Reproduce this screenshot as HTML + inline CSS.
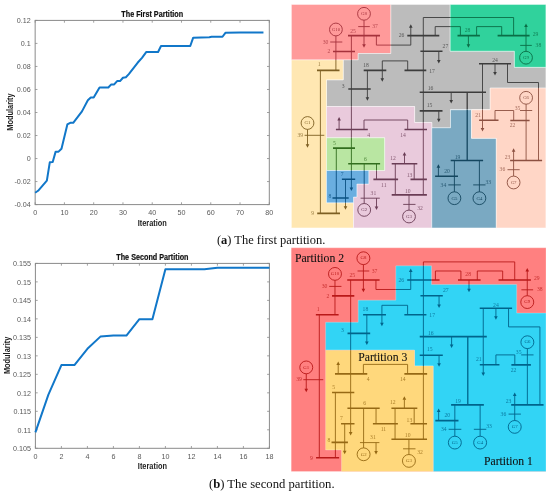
<!DOCTYPE html>
<html><head><meta charset="utf-8"><style>
html,body{margin:0;padding:0;background:#fff;width:550px;height:492px;overflow:hidden}
svg{display:block;will-change:transform}
.tk{font-family:"Liberation Sans",sans-serif;font-size:7.8px;fill:#5a5a5a}
.ttl{font-family:"Liberation Sans",sans-serif;font-size:8.6px;font-weight:bold;fill:#111;stroke:#111;stroke-width:0.2px}
.lbl{font-family:"Liberation Sans",sans-serif;font-size:8.2px;font-weight:bold;fill:#222}
.bl text{font-family:"Liberation Serif",serif;font-size:5.6px}
.gl text{font-family:"Liberation Serif",serif;font-size:4.8px}
.cap{font-family:"Liberation Serif",serif;font-size:13px;fill:#111}
.pt{font-family:"Liberation Serif",serif;font-size:12.8px;fill:#111;stroke:#111;stroke-width:0.1px}
.ov{mix-blend-mode:multiply}
</style></head><body>
<svg width="550" height="492" viewBox="0 0 550 492">
<rect x="35.15" y="20.4" width="234.15" height="184.2" fill="none" stroke="#8a8a8a" stroke-width="1"/>
<path d="M35.15 204.6v-2.3M35.15 20.4v2.3" stroke="#8a8a8a" stroke-width="0.8"/>
<text transform="translate(35.15,215.4) scale(0.92,1)" class="tk" text-anchor="middle">0</text>
<path d="M64.42 204.6v-2.3M64.42 20.4v2.3" stroke="#8a8a8a" stroke-width="0.8"/>
<text transform="translate(64.42,215.4) scale(0.92,1)" class="tk" text-anchor="middle">10</text>
<path d="M93.69 204.6v-2.3M93.69 20.4v2.3" stroke="#8a8a8a" stroke-width="0.8"/>
<text transform="translate(93.69,215.4) scale(0.92,1)" class="tk" text-anchor="middle">20</text>
<path d="M122.96 204.6v-2.3M122.96 20.4v2.3" stroke="#8a8a8a" stroke-width="0.8"/>
<text transform="translate(122.96,215.4) scale(0.92,1)" class="tk" text-anchor="middle">30</text>
<path d="M152.22 204.6v-2.3M152.22 20.4v2.3" stroke="#8a8a8a" stroke-width="0.8"/>
<text transform="translate(152.22,215.4) scale(0.92,1)" class="tk" text-anchor="middle">40</text>
<path d="M181.49 204.6v-2.3M181.49 20.4v2.3" stroke="#8a8a8a" stroke-width="0.8"/>
<text transform="translate(181.49,215.4) scale(0.92,1)" class="tk" text-anchor="middle">50</text>
<path d="M210.76 204.6v-2.3M210.76 20.4v2.3" stroke="#8a8a8a" stroke-width="0.8"/>
<text transform="translate(210.76,215.4) scale(0.92,1)" class="tk" text-anchor="middle">60</text>
<path d="M240.03 204.6v-2.3M240.03 20.4v2.3" stroke="#8a8a8a" stroke-width="0.8"/>
<text transform="translate(240.03,215.4) scale(0.92,1)" class="tk" text-anchor="middle">70</text>
<path d="M269.3 204.6v-2.3M269.3 20.4v2.3" stroke="#8a8a8a" stroke-width="0.8"/>
<text transform="translate(269.3,215.4) scale(0.92,1)" class="tk" text-anchor="middle">80</text>
<path d="M35.15 204.6h2.3M269.3 204.6h-2.3" stroke="#8a8a8a" stroke-width="0.8"/>
<text transform="translate(30.75,207.4) scale(0.92,1)" class="tk" text-anchor="end">-0.04</text>
<path d="M35.15 181.57h2.3M269.3 181.57h-2.3" stroke="#8a8a8a" stroke-width="0.8"/>
<text transform="translate(30.75,184.38) scale(0.92,1)" class="tk" text-anchor="end">-0.02</text>
<path d="M35.15 158.55h2.3M269.3 158.55h-2.3" stroke="#8a8a8a" stroke-width="0.8"/>
<text transform="translate(30.75,161.35) scale(0.92,1)" class="tk" text-anchor="end">0</text>
<path d="M35.15 135.53h2.3M269.3 135.53h-2.3" stroke="#8a8a8a" stroke-width="0.8"/>
<text transform="translate(30.75,138.33) scale(0.92,1)" class="tk" text-anchor="end">0.02</text>
<path d="M35.15 112.5h2.3M269.3 112.5h-2.3" stroke="#8a8a8a" stroke-width="0.8"/>
<text transform="translate(30.75,115.3) scale(0.92,1)" class="tk" text-anchor="end">0.04</text>
<path d="M35.15 89.47h2.3M269.3 89.47h-2.3" stroke="#8a8a8a" stroke-width="0.8"/>
<text transform="translate(30.75,92.27) scale(0.92,1)" class="tk" text-anchor="end">0.06</text>
<path d="M35.15 66.45h2.3M269.3 66.45h-2.3" stroke="#8a8a8a" stroke-width="0.8"/>
<text transform="translate(30.75,69.25) scale(0.92,1)" class="tk" text-anchor="end">0.08</text>
<path d="M35.15 43.42h2.3M269.3 43.42h-2.3" stroke="#8a8a8a" stroke-width="0.8"/>
<text transform="translate(30.75,46.22) scale(0.92,1)" class="tk" text-anchor="end">0.1</text>
<path d="M35.15 20.4h2.3M269.3 20.4h-2.3" stroke="#8a8a8a" stroke-width="0.8"/>
<text transform="translate(30.75,23.2) scale(0.92,1)" class="tk" text-anchor="end">0.12</text>
<polyline points="35.15,192.74 38.08,190.78 46.86,180.65 49.78,162.35 52.71,162 55.64,151.64 58.56,151.64 61.49,148.76 67.35,124.47 70.27,122.86 73.2,122.86 81.98,111.35 87.83,100.3 90.76,97.53 93.69,97.53 99.54,87.52 108.32,87.52 111.25,84.41 114.18,84.41 117.1,81.07 120.03,81.07 122.96,77.73 125.88,77.27 128.81,74.16 137.59,62.77 141.98,57.93 146.37,51.94 158.08,51.94 161.01,45.96 190.27,45.96 193.2,37.67 209.3,37.32 211.64,36.75 222.47,36.75 225.4,32.83 240.03,32.6 263.45,32.6" fill="none" stroke="#1177c9" stroke-width="2" stroke-linejoin="round"/>
<text transform="translate(152.22,17.1) scale(0.84,1)" class="ttl" text-anchor="middle">The First Partition</text>
<text transform="translate(152.22,226) scale(0.9,1)" class="lbl" text-anchor="middle">Iteration</text>
<text transform="translate(12.6,112) rotate(-90) scale(0.9,1)" class="lbl" text-anchor="middle">Modularity</text>
<rect x="35.4" y="263.4" width="234" height="184.9" fill="none" stroke="#8a8a8a" stroke-width="1"/>
<path d="M35.4 448.3v-2.3M35.4 263.4v2.3" stroke="#8a8a8a" stroke-width="0.8"/>
<text transform="translate(35.4,459.1) scale(0.92,1)" class="tk" text-anchor="middle">0</text>
<path d="M61.4 448.3v-2.3M61.4 263.4v2.3" stroke="#8a8a8a" stroke-width="0.8"/>
<text transform="translate(61.4,459.1) scale(0.92,1)" class="tk" text-anchor="middle">2</text>
<path d="M87.4 448.3v-2.3M87.4 263.4v2.3" stroke="#8a8a8a" stroke-width="0.8"/>
<text transform="translate(87.4,459.1) scale(0.92,1)" class="tk" text-anchor="middle">4</text>
<path d="M113.4 448.3v-2.3M113.4 263.4v2.3" stroke="#8a8a8a" stroke-width="0.8"/>
<text transform="translate(113.4,459.1) scale(0.92,1)" class="tk" text-anchor="middle">6</text>
<path d="M139.4 448.3v-2.3M139.4 263.4v2.3" stroke="#8a8a8a" stroke-width="0.8"/>
<text transform="translate(139.4,459.1) scale(0.92,1)" class="tk" text-anchor="middle">8</text>
<path d="M165.4 448.3v-2.3M165.4 263.4v2.3" stroke="#8a8a8a" stroke-width="0.8"/>
<text transform="translate(165.4,459.1) scale(0.92,1)" class="tk" text-anchor="middle">10</text>
<path d="M191.4 448.3v-2.3M191.4 263.4v2.3" stroke="#8a8a8a" stroke-width="0.8"/>
<text transform="translate(191.4,459.1) scale(0.92,1)" class="tk" text-anchor="middle">12</text>
<path d="M217.4 448.3v-2.3M217.4 263.4v2.3" stroke="#8a8a8a" stroke-width="0.8"/>
<text transform="translate(217.4,459.1) scale(0.92,1)" class="tk" text-anchor="middle">14</text>
<path d="M243.4 448.3v-2.3M243.4 263.4v2.3" stroke="#8a8a8a" stroke-width="0.8"/>
<text transform="translate(243.4,459.1) scale(0.92,1)" class="tk" text-anchor="middle">16</text>
<path d="M269.4 448.3v-2.3M269.4 263.4v2.3" stroke="#8a8a8a" stroke-width="0.8"/>
<text transform="translate(269.4,459.1) scale(0.92,1)" class="tk" text-anchor="middle">18</text>
<path d="M35.4 448.3h2.3M269.4 448.3h-2.3" stroke="#8a8a8a" stroke-width="0.8"/>
<text transform="translate(31,451.1) scale(0.92,1)" class="tk" text-anchor="end">0.105</text>
<path d="M35.4 429.81h2.3M269.4 429.81h-2.3" stroke="#8a8a8a" stroke-width="0.8"/>
<text transform="translate(31,432.61) scale(0.92,1)" class="tk" text-anchor="end">0.11</text>
<path d="M35.4 411.32h2.3M269.4 411.32h-2.3" stroke="#8a8a8a" stroke-width="0.8"/>
<text transform="translate(31,414.12) scale(0.92,1)" class="tk" text-anchor="end">0.115</text>
<path d="M35.4 392.83h2.3M269.4 392.83h-2.3" stroke="#8a8a8a" stroke-width="0.8"/>
<text transform="translate(31,395.63) scale(0.92,1)" class="tk" text-anchor="end">0.12</text>
<path d="M35.4 374.34h2.3M269.4 374.34h-2.3" stroke="#8a8a8a" stroke-width="0.8"/>
<text transform="translate(31,377.14) scale(0.92,1)" class="tk" text-anchor="end">0.125</text>
<path d="M35.4 355.85h2.3M269.4 355.85h-2.3" stroke="#8a8a8a" stroke-width="0.8"/>
<text transform="translate(31,358.65) scale(0.92,1)" class="tk" text-anchor="end">0.13</text>
<path d="M35.4 337.36h2.3M269.4 337.36h-2.3" stroke="#8a8a8a" stroke-width="0.8"/>
<text transform="translate(31,340.16) scale(0.92,1)" class="tk" text-anchor="end">0.135</text>
<path d="M35.4 318.87h2.3M269.4 318.87h-2.3" stroke="#8a8a8a" stroke-width="0.8"/>
<text transform="translate(31,321.67) scale(0.92,1)" class="tk" text-anchor="end">0.14</text>
<path d="M35.4 300.38h2.3M269.4 300.38h-2.3" stroke="#8a8a8a" stroke-width="0.8"/>
<text transform="translate(31,303.18) scale(0.92,1)" class="tk" text-anchor="end">0.145</text>
<path d="M35.4 281.89h2.3M269.4 281.89h-2.3" stroke="#8a8a8a" stroke-width="0.8"/>
<text transform="translate(31,284.69) scale(0.92,1)" class="tk" text-anchor="end">0.15</text>
<path d="M35.4 263.4h2.3M269.4 263.4h-2.3" stroke="#8a8a8a" stroke-width="0.8"/>
<text transform="translate(31,266.2) scale(0.92,1)" class="tk" text-anchor="end">0.155</text>
<polyline points="35.4,432.4 48.4,394.68 61.4,365.09 74.4,365.09 87.4,348.82 100.4,336.62 113.4,335.51 126.4,335.51 139.4,319.24 152.4,319.24 165.4,269.32 204.4,269.32 217.4,267.84 269.4,267.84" fill="none" stroke="#1177c9" stroke-width="2" stroke-linejoin="round"/>
<text transform="translate(152.4,259.7) scale(0.84,1)" class="ttl" text-anchor="middle">The Second Partition</text>
<text transform="translate(152.4,469.4) scale(0.9,1)" class="lbl" text-anchor="middle">Iteration</text>
<text transform="translate(10.1,355.4) rotate(-90) scale(0.9,1)" class="lbl" text-anchor="middle">Modularity</text>
<g>
<polygon points="291.4,4.4 390.9,4.4 390.9,53.5 358.2,53.5 358.2,59.9 291.4,59.9" fill="#ff9a9a" stroke="#fff" stroke-opacity="0.55" stroke-width="0.8"/>
<polygon points="390.9,4.4 450.2,4.4 450.2,51.2 514.4,51.2 514.4,67.3 545.9,67.3 545.9,88.1 490.2,88.1 490.2,109.5 450.5,109.5 450.5,127.8 431.8,127.8 431.8,122.5 414.6,122.5 414.6,106.5 326.5,106.5 326.5,79.8 343.2,79.8 343.2,59.9 358.2,59.9 358.2,53.5 390.9,53.5" fill="#bcbcbc" stroke="#fff" stroke-opacity="0.55" stroke-width="0.8"/>
<polygon points="450.2,4.4 545.9,4.4 545.9,67.3 514.4,67.3 514.4,51.2 450.2,51.2" fill="#30d29c" stroke="#fff" stroke-opacity="0.55" stroke-width="0.8"/>
<polygon points="291.4,59.9 343.2,59.9 343.2,79.8 326.5,79.8 326.5,202.8 353.5,202.8 353.5,227.9 291.4,227.9" fill="#ffe7b2" stroke="#fff" stroke-opacity="0.55" stroke-width="0.8"/>
<polygon points="326.5,106.5 414.6,106.5 414.6,122.5 431.8,122.5 431.8,227.9 353.5,227.9 353.5,197 356.9,197 356.9,184 368.8,184 368.8,170.5 384.6,170.5 384.6,137.8 326.5,137.8" fill="#e9cadc" stroke="#fff" stroke-opacity="0.55" stroke-width="0.8"/>
<polygon points="326.5,137.8 384.6,137.8 384.6,170.5 326.5,170.5" fill="#b9e6a2" stroke="#fff" stroke-opacity="0.55" stroke-width="0.8"/>
<polygon points="326.5,170.5 368.8,170.5 368.8,184 356.9,184 356.9,197 353.5,197 353.5,202.8 326.5,202.8" fill="#6aaee0" stroke="#fff" stroke-opacity="0.55" stroke-width="0.8"/>
<polygon points="450.5,109.8 471.5,109.8 471.5,138.3 496.3,138.3 496.3,227.9 431.8,227.9 431.8,127.8 450.5,127.8" fill="#7aa9c2" stroke="#fff" stroke-opacity="0.55" stroke-width="0.8"/>
<polygon points="490.2,88.1 545.9,88.1 545.9,227.9 496.3,227.9 496.3,138.3 471.5,138.3 471.5,109.8 490.2,109.8" fill="#ffd6c6" stroke="#fff" stroke-opacity="0.55" stroke-width="0.8"/>
<polygon points="291.2,247.8 546,247.8 546,471.5 291.2,471.5" fill="#ff8080" stroke="#fff" stroke-opacity="0.3" stroke-width="0.8"/>
<polygon points="395.8,265.8 431.5,265.8 431.5,284.5 516.7,284.5 516.7,313.1 546,313.1 546,471.5 433.2,471.5 433.2,365.9 414.5,365.9 414.5,350.2 325.6,350.2 325.6,322.3 358.2,322.3 358.2,300.2 395.8,300.2" fill="#32d4f5" stroke="#fff" stroke-opacity="0.3" stroke-width="0.8"/>
<polygon points="325.6,350.2 414.5,350.2 414.5,365.9 433.2,365.9 433.2,471.5 341.5,471.5 341.5,449.9 325.6,449.9" fill="#ffd87c" stroke="#fff" stroke-opacity="0.3" stroke-width="0.8"/>
</g>
<defs><g id="dia"><g class="ln" fill="none" stroke="currentColor" stroke-width="0.9">
<path d="M335.9 35.9V70.4"/>
<path d="M364 20.2V45"/>
<path d="M376.4 35.6V45.1H410.8V27"/>
<path d="M351.4 35.6V188"/>
<path d="M320.4 70.4V213.4"/>
<path d="M423.3 17.5V194.9"/>
<path d="M423.3 17.5H513.6V35.6"/>
<path d="M435.2 35.6V26.6H460.4V35.6"/>
<path d="M476.6 35.6V26.6H501.7V35.6"/>
<path d="M468.4 35.6V45"/>
<path d="M526 35.6V26.5"/>
<path d="M526 35.6V51.3"/>
<path d="M438.8 51.3V61"/>
<path d="M367.4 70.4V98"/>
<path d="M382.3 79V60.9H407.7V70.4"/>
<path d="M451.2 92.2V101"/>
<path d="M482.5 63.8V129"/>
<path d="M495 63.8V73"/>
<path d="M507.5 63.8V82.5H538.5V160.5"/>
<path d="M495 120.3V110.5H513.7V120.5"/>
<path d="M526.1 104.2V160.5"/>
<path d="M513.6 160.5V151"/>
<path d="M513.6 160.5V176.1"/>
<path d="M307.5 129.4V145"/>
<path d="M339.1 129.5V120"/>
<path d="M364 129.5V120H407.7V129.5"/>
<path d="M336.3 148.1V213.4"/>
<path d="M345.5 179.3V207"/>
<path d="M364.2 163.8V203.5"/>
<path d="M376.5 163.8V179.4"/>
<path d="M376.5 198.2V207.5"/>
<path d="M404.5 163.8V155"/>
<path d="M395.3 163.8V194.9"/>
<path d="M414.2 163.8V179.4"/>
<path d="M409 194.9V210.1"/>
<path d="M454.4 160.5V191.8"/>
<path d="M479.4 160.5V191.8"/>
<path d="M438.4 176.2V167"/>
<path d="M438.8 110.9V119.5"/>
<circle cx="335.9" cy="29.5" r="6.4"/>
<circle cx="364" cy="13.8" r="6.4"/>
<circle cx="526" cy="57.7" r="6.4"/>
<circle cx="307.5" cy="123" r="6.4"/>
<circle cx="526.1" cy="97.8" r="6.4"/>
<circle cx="364.2" cy="209.9" r="6.4"/>
<circle cx="409" cy="216.5" r="6.4"/>
<circle cx="454.4" cy="198.2" r="6.4"/>
<circle cx="479.4" cy="198.2" r="6.4"/>
<circle cx="513.6" cy="182.5" r="6.4"/>
<path d="M467.2 92.2V160.5" stroke-width="1.3"/>
</g>
<g stroke="currentColor">
<path d="M348 35.6H380" stroke-width="1.6"/>
<path d="M333 51.5H355" stroke-width="1.6"/>
<path d="M330.2 42H342.3" stroke-width="0.9"/>
<path d="M358.2 26.6H369.8" stroke-width="0.9"/>
<path d="M407.3 35.6H439.3" stroke-width="1.6"/>
<path d="M457.5 35.6H479.9" stroke-width="1.6"/>
<path d="M497.6 35.6H529.6" stroke-width="1.6"/>
<path d="M520.2 45.4H531.8" stroke-width="0.9"/>
<path d="M420.4 51.3H442.5" stroke-width="1.6"/>
<path d="M317 70.4H339.5" stroke-width="1.6"/>
<path d="M363.7 70.4H386.3" stroke-width="1.6"/>
<path d="M404.5 70.4H426.3" stroke-width="1.6"/>
<path d="M479 63.8H511" stroke-width="1.6"/>
<path d="M348.3 89H370.7" stroke-width="1.6"/>
<path d="M419.7 92.2H486" stroke-width="1.6"/>
<path d="M419.7 110.9H442.5" stroke-width="1.6"/>
<path d="M479.1 120.3H498.5" stroke-width="1.6"/>
<path d="M510.3 120.5H529.6" stroke-width="1.6"/>
<path d="M520 110.5H532.2" stroke-width="0.9"/>
<path d="M304.6 135.3H324.3" stroke-width="0.9"/>
<path d="M335.9 129.5H367.8" stroke-width="1.6"/>
<path d="M404.5 129.5H427" stroke-width="1.6"/>
<path d="M333 148.1H355" stroke-width="1.6"/>
<path d="M348.2 163.8H380.1" stroke-width="1.6"/>
<path d="M391.7 163.8H417.3" stroke-width="1.6"/>
<path d="M341.9 179.3H355.2" stroke-width="1.6"/>
<path d="M373.4 179.4H398.1" stroke-width="1.6"/>
<path d="M410.5 179.4H426.9" stroke-width="1.6"/>
<path d="M332.5 198H348.7" stroke-width="1.6"/>
<path d="M360.6 198.2H379.8" stroke-width="0.9"/>
<path d="M391.7 194.9H426.9" stroke-width="1.6"/>
<path d="M403.2 204.4H415.5" stroke-width="0.9"/>
<path d="M317.2 213.4H340" stroke-width="1.6"/>
<path d="M450.7 160.5H483.1" stroke-width="1.6"/>
<path d="M435.1 176.2H458" stroke-width="1.6"/>
<path d="M448.3 184.9H460.8" stroke-width="0.9"/>
<path d="M473.2 184.9H485.5" stroke-width="0.9"/>
<path d="M510.1 160.5H542.1" stroke-width="1.6"/>
<path d="M507.5 169.7H519.7" stroke-width="0.9"/>
</g>
<g fill="currentColor">
<path d="M364 47.8L362.2 44.3H365.8Z"/>
<path d="M410.8 24.2L409 27.7H412.6Z"/>
<path d="M468.4 47.8L466.6 44.3H470.2Z"/>
<path d="M526 23.5L524.2 27H527.8Z"/>
<path d="M438.8 63.6L437 60.1H440.6Z"/>
<path d="M367.4 100.7L365.6 97.2H369.2Z"/>
<path d="M382.3 81.8L380.5 78.3H384.1Z"/>
<path d="M451.2 103.5L449.4 100H453Z"/>
<path d="M482.5 131.5L480.7 128H484.3Z"/>
<path d="M495 75.4L493.2 71.9H496.8Z"/>
<path d="M513.6 148.2L511.8 151.7H515.4Z"/>
<path d="M307.5 147.8L305.7 144.3H309.3Z"/>
<path d="M339.1 117L337.3 120.5H340.9Z"/>
<path d="M351.4 191L349.6 187.5H353.2Z"/>
<path d="M345.5 209.8L343.7 206.3H347.3Z"/>
<path d="M376.5 210.1L374.7 206.6H378.3Z"/>
<path d="M404.5 151.9L402.7 155.4H406.3Z"/>
<path d="M438.4 164.2L436.6 167.7H440.2Z"/>
<path d="M438.8 122.3L437 118.8H440.6Z"/>
</g>
<g class="bl" fill="currentColor" fill-opacity="0.8">
<text x="353" y="32.9" text-anchor="middle">25</text>
<text x="329" y="53.4" text-anchor="middle">2</text>
<text x="325.5" y="43.9" text-anchor="middle">30</text>
<text x="375" y="28.4" text-anchor="middle">37</text>
<text x="401.5" y="37.4" text-anchor="middle">26</text>
<text x="467.6" y="31.9" text-anchor="middle">28</text>
<text x="535.5" y="35.9" text-anchor="middle">29</text>
<text x="538.4" y="46.9" text-anchor="middle">38</text>
<text x="445.4" y="47.9" text-anchor="middle">27</text>
<text x="319.2" y="66.4" text-anchor="middle">1</text>
<text x="366" y="66.9" text-anchor="middle">18</text>
<text x="432" y="72.9" text-anchor="middle">17</text>
<text x="495" y="62.3" text-anchor="middle">24</text>
<text x="343.2" y="87.9" text-anchor="middle">3</text>
<text x="430.6" y="90.3" text-anchor="middle">16</text>
<text x="429.6" y="106.9" text-anchor="middle">15</text>
<text x="478" y="116.9" text-anchor="middle">21</text>
<text x="512.5" y="127.4" text-anchor="middle">22</text>
<text x="517.5" y="109.9" text-anchor="middle">35</text>
<text x="300.3" y="136.9" text-anchor="middle">39</text>
<text x="368.6" y="136.5" text-anchor="middle">4</text>
<text x="403" y="136.5" text-anchor="middle">14</text>
<text x="334.5" y="144.9" text-anchor="middle">5</text>
<text x="365.3" y="160.9" text-anchor="middle">6</text>
<text x="393" y="159.9" text-anchor="middle">12</text>
<text x="342.2" y="175.9" text-anchor="middle">7</text>
<text x="383.8" y="186.8" text-anchor="middle">11</text>
<text x="409.5" y="177.2" text-anchor="middle">13</text>
<text x="330" y="197.9" text-anchor="middle">8</text>
<text x="373.4" y="194.9" text-anchor="middle">31</text>
<text x="407.8" y="192.8" text-anchor="middle">10</text>
<text x="420" y="209.9" text-anchor="middle">32</text>
<text x="312.6" y="215.3" text-anchor="middle">9</text>
<text x="457.5" y="158.7" text-anchor="middle">19</text>
<text x="447" y="172.9" text-anchor="middle">20</text>
<text x="443.4" y="186.9" text-anchor="middle">34</text>
<text x="488.2" y="183.9" text-anchor="middle">33</text>
<text x="507.5" y="158.9" text-anchor="middle">23</text>
<text x="502.4" y="171.4" text-anchor="middle">36</text>
</g>
<g class="gl" fill="currentColor">
<text x="335.9" y="30.8" text-anchor="middle">G10</text>
<text x="364" y="15.1" text-anchor="middle">G8</text>
<text x="526" y="59" text-anchor="middle">G9</text>
<text x="307.5" y="124.3" text-anchor="middle">G1</text>
<text x="526.1" y="99.1" text-anchor="middle">G6</text>
<text x="364.2" y="211.2" text-anchor="middle">G2</text>
<text x="409" y="217.8" text-anchor="middle">G3</text>
<text x="454.4" y="199.5" text-anchor="middle">G5</text>
<text x="479.4" y="199.5" text-anchor="middle">G4</text>
<text x="513.6" y="183.8" text-anchor="middle">G7</text>
</g></g>
<clipPath id="a0"><polygon points="291.4,4.4 390.9,4.4 390.9,53.5 358.2,53.5 358.2,59.9 291.4,59.9"/></clipPath>
<clipPath id="a1"><polygon points="390.9,4.4 450.2,4.4 450.2,51.2 514.4,51.2 514.4,67.3 545.9,67.3 545.9,88.1 490.2,88.1 490.2,109.5 450.5,109.5 450.5,127.8 431.8,127.8 431.8,122.5 414.6,122.5 414.6,106.5 326.5,106.5 326.5,79.8 343.2,79.8 343.2,59.9 358.2,59.9 358.2,53.5 390.9,53.5"/></clipPath>
<clipPath id="a2"><polygon points="450.2,4.4 545.9,4.4 545.9,67.3 514.4,67.3 514.4,51.2 450.2,51.2"/></clipPath>
<clipPath id="a3"><polygon points="291.4,59.9 343.2,59.9 343.2,79.8 326.5,79.8 326.5,202.8 353.5,202.8 353.5,227.9 291.4,227.9"/></clipPath>
<clipPath id="a4"><polygon points="326.5,106.5 414.6,106.5 414.6,122.5 431.8,122.5 431.8,227.9 353.5,227.9 353.5,197 356.9,197 356.9,184 368.8,184 368.8,170.5 384.6,170.5 384.6,137.8 326.5,137.8"/></clipPath>
<clipPath id="a5"><polygon points="326.5,137.8 384.6,137.8 384.6,170.5 326.5,170.5"/></clipPath>
<clipPath id="a6"><polygon points="326.5,170.5 368.8,170.5 368.8,184 356.9,184 356.9,197 353.5,197 353.5,202.8 326.5,202.8"/></clipPath>
<clipPath id="a7"><polygon points="450.5,109.8 471.5,109.8 471.5,138.3 496.3,138.3 496.3,227.9 431.8,227.9 431.8,127.8 450.5,127.8"/></clipPath>
<clipPath id="a8"><polygon points="490.2,88.1 545.9,88.1 545.9,227.9 496.3,227.9 496.3,138.3 471.5,138.3 471.5,109.8 490.2,109.8"/></clipPath>
<clipPath id="b0"><path clip-rule="evenodd" d="M291.2 247.8L546 247.8L546 471.5L291.2 471.5ZM395.8 265.8L431.5 265.8L431.5 284.5L516.7 284.5L516.7 313.1L546 313.1L546 471.5L341.5 471.5L341.5 449.9L325.6 449.9L325.6 322.3L358.2 322.3L358.2 300.2L395.8 300.2Z"/></clipPath>
<clipPath id="b1"><polygon points="395.8,265.8 431.5,265.8 431.5,284.5 516.7,284.5 516.7,313.1 546,313.1 546,471.5 433.2,471.5 433.2,365.9 414.5,365.9 414.5,350.2 325.6,350.2 325.6,322.3 358.2,322.3 358.2,300.2 395.8,300.2"/></clipPath>
<clipPath id="b2"><polygon points="325.6,350.2 414.5,350.2 414.5,365.9 433.2,365.9 433.2,471.5 341.5,471.5 341.5,449.9 325.6,449.9"/></clipPath></defs>
<use href="#dia" clip-path="url(#a0)" style="color:#a5323c"/>
<use href="#dia" clip-path="url(#a1)" style="color:#3c3c3c"/>
<use href="#dia" clip-path="url(#a2)" style="color:#0a6e46"/>
<use href="#dia" clip-path="url(#a3)" style="color:#7d5f23"/>
<use href="#dia" clip-path="url(#a4)" style="color:#6a3c55"/>
<use href="#dia" clip-path="url(#a5)" style="color:#326e1e"/>
<use href="#dia" clip-path="url(#a6)" style="color:#0a5082"/>
<use href="#dia" clip-path="url(#a7)" style="color:#14465f"/>
<use href="#dia" clip-path="url(#a8)" style="color:#8c5041"/>
<g clip-path="url(#b0)"><use href="#dia" transform="matrix(1.0115,0,0,1,-4.785,244.4)" style="color:#b91919"/></g>
<g clip-path="url(#b1)"><use href="#dia" transform="matrix(1.0115,0,0,1,-4.785,244.4)" style="color:#00648c"/></g>
<g clip-path="url(#b2)"><use href="#dia" transform="matrix(1.0115,0,0,1,-4.785,244.4)" style="color:#966914"/></g>
<text class="pt" x="294.9" y="261.9" textLength="49.2" lengthAdjust="spacingAndGlyphs">Partition 2</text>
<text class="pt" x="358.2" y="361.1" textLength="49.1" lengthAdjust="spacingAndGlyphs">Partition 3</text>
<text class="pt" x="484" y="464.7" textLength="48.8" lengthAdjust="spacingAndGlyphs">Partition 1</text>
<text class="cap" x="216.9" y="243.5" textLength="108.5" lengthAdjust="spacingAndGlyphs">(<tspan font-weight="bold">a</tspan>) The first partition.</text>
<text class="cap" x="208.9" y="487.7" textLength="125.7" lengthAdjust="spacingAndGlyphs">(<tspan font-weight="bold">b</tspan>) The second partition.</text>
</svg>
</body></html>
